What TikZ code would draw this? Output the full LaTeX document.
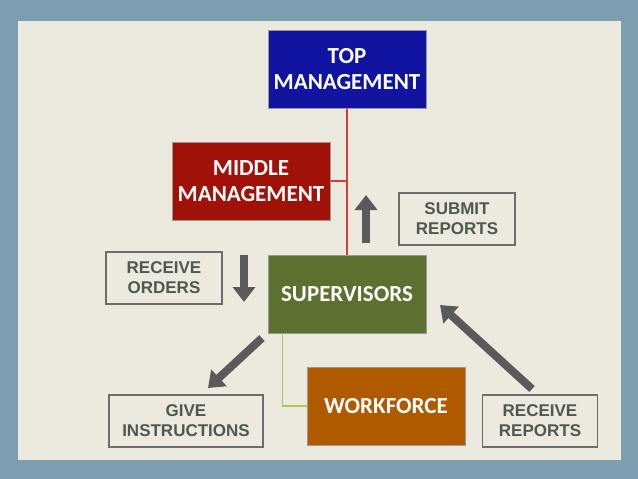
\documentclass[tikz,border=0pt]{standalone}
\usepackage{fontspec}
\setmainfont{Liberation Sans}
\newfontfamily\boxfont{Carlito}
\usetikzlibrary{arrows.meta,calc}
\definecolor{frameblue}{RGB}{124,158,176}
\definecolor{paper}{RGB}{236,234,222}
\definecolor{topblue}{RGB}{16,20,160}
\definecolor{midred}{RGB}{160,18,8}
\definecolor{supgreen}{RGB}{92,112,48}
\definecolor{workorange}{RGB}{176,90,0}
\definecolor{labelgray}{RGB}{78,88,80}
\definecolor{arrowgray}{RGB}{90,90,90}
\definecolor{linkred}{RGB}{215,60,50}
\definecolor{linkgreen}{RGB}{165,200,95}
\tikzset{
  level/.style={rectangle,fill=#1,draw=gray!80,line width=1pt,
    minimum width=158pt,minimum height=78pt,inner sep=0pt,
    text=white,align=center,font=\boxfont\bfseries\fontsize{23}{26}\selectfont},
  note/.style={rectangle,draw=gray!85!black,line width=1.4pt,
    minimum height=52pt,inner sep=0pt,text=labelgray,align=center,
    font=\bfseries\fontsize{17}{20}\selectfont},
  fat/.style={arrowgray,line width=8pt,-{Triangle[width=22pt,length=15pt]}},
  redline/.style={linkred,line width=1.3pt},
  greenline/.style={linkgreen,line width=1.2pt}
}
\begin{document}
\begin{tikzpicture}[x=1pt,y=-1pt]
    \useasboundingbox (0,0) rectangle (638,479);
    \fill[frameblue] (0,0) rectangle (638,479);
    \fill[paper] (18,21) rectangle (621,460);

    \node[level=topblue] (top) at (347,69) {TOP\\MANAGEMENT};
    \node[level=midred] (mid) at (251,181) {MIDDLE\\MANAGEMENT};
    \node[level=supgreen] (sup) at (347,294) {SUPERVISORS};
    \node[level=workorange] (work) at (386,406) {WORKFORCE};

    \node[note,minimum width=116pt] (submit) at (457,219) {SUBMIT\\REPORTS};
    \node[note,minimum width=116pt] (orders) at (164,278) {RECEIVE\\ORDERS};
    \node[note,minimum width=154pt] (give) at (186,421) {GIVE\\INSTRUCTIONS};
    \node[note,minimum width=115pt] (getrep) at (540,421) {RECEIVE\\REPORTS};

    % links between the levels
    \draw[redline] (top.south) -- (sup.north);
    \draw[redline] (mid.east) -- (mid.east -| top.south);
    \draw[greenline] ($(sup.south west)+(15,0)$) |- (work.west);

    % flow arrows
    \coordinate (upfrom) at (366,243);
    \coordinate (upto) at (366,195);
    \coordinate (downfrom) at (244,255);
    \coordinate (downto) at (244,302);
    \coordinate (givefrom) at (262,338);
    \coordinate (giveto) at (208,388);
    \coordinate (repfrom) at (532,389);
    \coordinate (repto) at (440,305);
    \draw[fat] (upfrom) -- (upto);
    \draw[fat] (downfrom) -- (downto);
    \draw[fat] (givefrom) -- (giveto);
    \draw[fat] (repfrom) -- (repto);
\end{tikzpicture}
\end{document}
